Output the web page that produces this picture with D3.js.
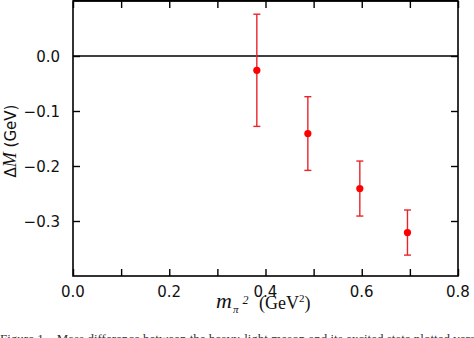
<!DOCTYPE html>
<html>
<head>
<meta charset="utf-8">
<script src="https://cdn.jsdelivr.net/npm/d3@7"></script>
<style>
  html, body { margin: 0; padding: 0; background: #fff; }
  svg { display: block; }
</style>
</head>
<body>
<svg id="chart" width="474" height="338"></svg>
<script>
// Squared pion mass (GeV^2) and mass splitting with its error (GeV)
const mpi2 = [0.382, 0.488, 0.596, 0.695];
const deltaM = [-0.026, -0.141, -0.241, -0.321];
const deltaErr = [0.102, 0.067, 0.050, 0.041];

const xTicks = [0.0, 0.2, 0.4, 0.6, 0.8];
const xMinorTicks = [0.1, 0.3, 0.5, 0.7];
const yTicks = [0.0, -0.1, -0.2, -0.3];

(function draw() {
  const svg = d3.select("#chart");
  const plotLeft = 73, plotRight = 458, plotTop = 1, plotBottom = 276;

  const x = d3.scaleLinear().domain([0, 0.8]).range([plotLeft, plotRight]);
  const y = d3.scaleLinear().domain([-0.4, 0.1]).range([plotBottom, plotTop]);

  const fmt = d => d === 0 ? "0.0" : d3.format(".1f")(d).replace("-", "\u2212");
  const tickFont = "'DejaVu Sans', Verdana, sans-serif";
  const serif = "'Liberation Serif', 'DejaVu Serif', serif";

  // Inward ticks on all four sides
  const tickLen = 7;
  const allX = xTicks.concat(xMinorTicks);
  const styleTicks = g => {
    g.select(".domain").remove();
    g.selectAll("line").attr("stroke", "#000").attr("stroke-width", 1.4);
  };

  svg.append("g")
    .attr("transform", `translate(0,${plotBottom})`)
    .call(d3.axisBottom(x).tickValues(allX).tickSize(-tickLen).tickFormat(""))
    .call(styleTicks);
  svg.append("g")
    .attr("transform", `translate(0,${plotTop})`)
    .call(d3.axisTop(x).tickValues(allX).tickSize(-tickLen).tickFormat(""))
    .call(styleTicks);
  svg.append("g")
    .attr("transform", `translate(${plotLeft},0)`)
    .call(d3.axisLeft(y).tickValues(yTicks).tickSize(-tickLen).tickFormat(""))
    .call(styleTicks);
  svg.append("g")
    .attr("transform", `translate(${plotRight},0)`)
    .call(d3.axisRight(y).tickValues(yTicks).tickSize(-tickLen).tickFormat(""))
    .call(styleTicks);

  // Tick labels
  svg.append("g").selectAll("text").data(xTicks).join("text")
    .attr("x", d => x(d))
    .attr("y", 297)
    .attr("text-anchor", "middle")
    .attr("font-family", tickFont)
    .attr("font-size", 15)
    .attr("fill", "#111")
    .text(fmt);

  svg.append("g").selectAll("text").data(yTicks).join("text")
    .attr("x", 60)
    .attr("y", d => y(d) + 5.5)
    .attr("text-anchor", "end")
    .attr("font-family", tickFont)
    .attr("font-size", 15)
    .attr("fill", "#111")
    .text(fmt);

  // Zero reference line
  svg.append("line")
    .attr("x1", plotLeft).attr("x2", plotRight)
    .attr("y1", y(0)).attr("y2", y(0))
    .attr("stroke", "#000").attr("stroke-width", 1.3);

  // Frame
  svg.append("rect")
    .attr("x", plotLeft).attr("y", plotTop)
    .attr("width", plotRight - plotLeft).attr("height", plotBottom - plotTop)
    .attr("fill", "none").attr("stroke", "#000").attr("stroke-width", 1.6);
  svg.append("line")
    .attr("x1", plotLeft).attr("x2", plotRight).attr("y1", 0.5).attr("y2", 0.5)
    .attr("stroke", "#000").attr("stroke-width", 2);

  // Error bars and points
  const pts = mpi2.map((v, i) => ({ x: v, y: deltaM[i], e: deltaErr[i] }));
  const cap = 3.5;
  const eb = svg.append("g").attr("stroke", "#e8242c").attr("stroke-width", 1.4);
  eb.selectAll("line.v").data(pts).join("line").attr("class", "v")
    .attr("x1", d => x(d.x)).attr("x2", d => x(d.x))
    .attr("y1", d => y(d.y + d.e)).attr("y2", d => y(d.y - d.e));
  eb.selectAll("line.t").data(pts).join("line").attr("class", "t")
    .attr("x1", d => x(d.x) - cap).attr("x2", d => x(d.x) + cap)
    .attr("y1", d => y(d.y + d.e)).attr("y2", d => y(d.y + d.e));
  eb.selectAll("line.b").data(pts).join("line").attr("class", "b")
    .attr("x1", d => x(d.x) - cap).attr("x2", d => x(d.x) + cap)
    .attr("y1", d => y(d.y - d.e)).attr("y2", d => y(d.y - d.e));

  svg.append("g").selectAll("circle").data(pts).join("circle")
    .attr("cx", d => x(d.x)).attr("cy", d => y(d.y))
    .attr("r", 3.6).attr("fill", "#f00");

  // Y axis title
  const yt = svg.append("text")
    .attr("transform", "translate(16,141) rotate(-90)")
    .attr("text-anchor", "middle")
    .attr("font-family", tickFont)
    .attr("font-size", 15)
    .attr("fill", "#111");
  yt.append("tspan").text("\u0394");
  yt.append("tspan").attr("font-family", serif).attr("font-style", "italic").attr("font-size", 18).text("M");
  yt.append("tspan").text(" (GeV)");

  // X axis title
  svg.append("text").attr("x", 216).attr("y", 308)
    .attr("font-family", serif).attr("font-style", "italic").attr("font-size", 22)
    .attr("fill", "#111").text("m");
  svg.append("text").attr("x", 233).attr("y", 313)
    .attr("font-family", serif).attr("font-style", "italic").attr("font-size", 11)
    .attr("fill", "#111").text("\u03c0");
  svg.append("text").attr("x", 242.5).attr("y", 304)
    .attr("font-family", serif).attr("font-style", "italic").attr("font-size", 12)
    .attr("fill", "#111").text("2");
  const xt = svg.append("text").attr("x", 259).attr("y", 309)
    .attr("font-family", serif).attr("font-size", 18).attr("fill", "#111");
  xt.append("tspan").text("(GeV");
  xt.append("tspan").attr("font-size", 11).attr("dy", -7).text("2");
  xt.append("tspan").attr("dy", 7).text(")");

  // Caption, running off the bottom edge
  svg.append("text").attr("x", 0).attr("y", 343)
    .attr("font-family", serif).attr("font-size", 13).attr("fill", "#333")
    .attr("xml:space", "preserve")
    .text("Figure 1.   Mass difference between the heavy-light meson and its excited state plotted versus the pion mass");
})();
</script>
</body>
</html>
